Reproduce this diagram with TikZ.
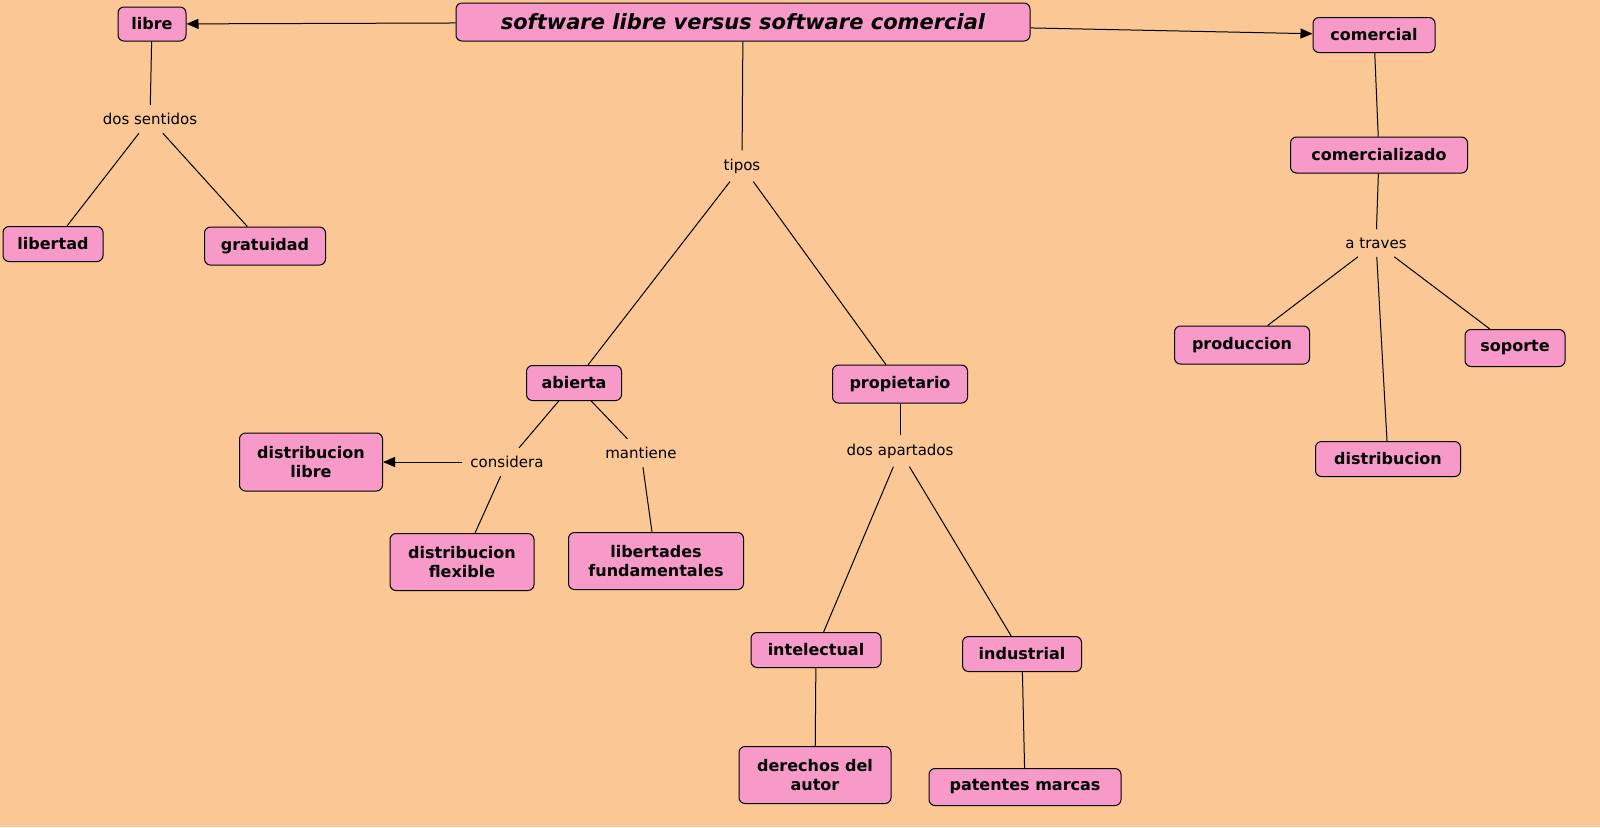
\documentclass[tikz,border=0pt]{standalone}
\usepackage{fontspec}
\setmainfont{DejaVu Sans}
\usetikzlibrary{arrows.meta}
\definecolor{bg}{HTML}{FBC795}
\definecolor{nf}{HTML}{F79AC9}
\tikzset{
 box/.style={draw=black, fill=nf, rounded corners=3pt, font=\fontsize{8}{9.5}\selectfont\bfseries, align=center, inner sep=1pt, line width=0.5pt},
 lab/.style={font=\fontsize{7.5}{9}\selectfont, inner sep=4pt},
 ln/.style={line width=0.5pt},
 arr/.style={line width=0.5pt, -{Triangle[length=6pt,width=5pt]}}
}
\begin{document}
\begin{tikzpicture}[x=0.5pt,y=-0.5pt]
\fill[bg] (0,0) rectangle (1600,827);
\useasboundingbox (0,0) rectangle (1600,827);
\node[box, minimum width=287pt, minimum height=19pt, font=\fontsize{10.5}{12}\selectfont\bfseries\itshape] (t) at (743,22) {software libre versus software comercial};
\node[box, minimum width=34pt, minimum height=17pt] (libre) at (152,24) {libre};
\node[box, minimum width=61pt, minimum height=17.5pt] (com) at (1374,35) {comercial};
\node[box, minimum width=50pt, minimum height=17.5pt] (libertad) at (53,244) {libertad};
\node[box, minimum width=60.5pt, minimum height=19pt] (grat) at (265,246) {gratuidad};
\node[box, minimum width=88.5pt, minimum height=18pt] (comz) at (1379,155) {comercializado};
\node[box, minimum width=67.5pt, minimum height=19pt] (prod) at (1242,345) {produccion};
\node[box, minimum width=50pt, minimum height=18.5pt] (sop) at (1515,348) {soporte};
\node[box, minimum width=72.5pt, minimum height=17.5pt] (dist) at (1388,459) {distribucion};
\node[box, minimum width=47.5pt, minimum height=17.5pt] (ab) at (574,383) {abierta};
\node[box, minimum width=67.5pt, minimum height=19pt] (prop) at (900,384) {propietario};
\node[box, minimum width=71.5pt, minimum height=29pt] (dl) at (311,462) {distribucion\\libre};
\node[box, minimum width=72pt, minimum height=28.5pt] (df) at (462,562) {distribucion\\flexible};
\node[box, minimum width=87.5pt, minimum height=28.5pt] (lf) at (656,561) {libertades\\fundamentales};
\node[box, minimum width=65pt, minimum height=17.5pt] (int) at (816,650) {intelectual};
\node[box, minimum width=59.5pt, minimum height=17.5pt] (ind) at (1022,654) {industrial};
\node[box, minimum width=76pt, minimum height=28.5pt] (der) at (815,775) {derechos del\\autor};
\node[box, minimum width=96pt, minimum height=18.5pt] (pat) at (1025,787) {patentes marcas};
\node[lab] (ds) at (150,119) {dos sentidos};
\node[lab] (tipos) at (742,166) {tipos};
\node[lab] (at) at (1376,243) {a traves};
\node[lab] (cons) at (507,462) {considera};
\node[lab] (mant) at (641,453) {mantiene};
\node[lab] (da) at (900,451) {dos apartados};
\draw[arr] (t) -- (libre);
\draw[arr] (t) -- (com);
\draw[ln] (t) -- (tipos);
\draw[ln] (tipos) -- (ab);
\draw[ln] (tipos) -- (prop);
\draw[ln] (libre) -- (ds);
\draw[ln] (ds) -- (libertad);
\draw[ln] (ds) -- (grat);
\draw[ln] (com) -- (comz);
\draw[ln] (comz) -- (at);
\draw[ln] (at) -- (prod);
\draw[ln] (at) -- (sop);
\draw[ln] (at) -- (dist);
\draw[ln] (ab) -- (cons);
\draw[arr] (cons) -- (dl);
\draw[ln] (cons) -- (df);
\draw[ln] (ab) -- (mant);
\draw[ln] (mant) -- (lf);
\draw[ln] (prop) -- (da);
\draw[ln] (da) -- (int);
\draw[ln] (da) -- (ind);
\draw[ln] (int) -- (der);
\draw[ln] (ind) -- (pat);
\end{tikzpicture}
\end{document}
